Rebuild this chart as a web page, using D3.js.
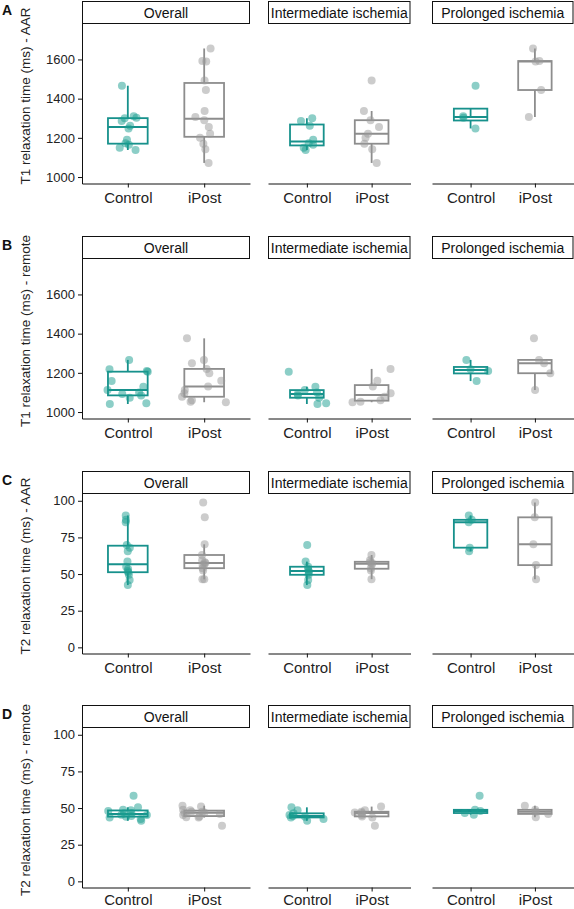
<!DOCTYPE html>
<html>
<head>
<meta charset="utf-8">
<script src="https://cdn.jsdelivr.net/npm/d3@7"></script>
<style>
  body { margin: 0; background: #fff; }
  svg { display: block; font-family: "Liberation Sans", Arial, sans-serif; }
</style>
</head>
<body>
<div id="chart"></div>
<script>
// categories
const rowLetters = ['A', 'B', 'C', 'D'];
const yTitles = [
    'T1 relaxation time (ms) - AAR',
    'T1 relaxation time (ms) - remote',
    'T2 relaxation time (ms) - AAR',
    'T2 relaxation time (ms) - remote'
];
const panelNames = ['Overall', 'Intermediate ischemia', 'Prolonged ischemia'];
const groups = ['Control', 'iPost'];

// tick labels
const t1Ticks = [1000, 1200, 1400, 1600];
const t2Ticks = [0, 25, 50, 75, 100];

// values (ms), per ischemia group
const t1AarInterControl = [1138, 1150, 1165, 1172, 1190, 1262, 1286, 1300];
const t1AarInterIpost   = [1072, 1142, 1170, 1200, 1221, 1255, 1290, 1337, 1492];
const t1AarProlControl  = [1248, 1302, 1310, 1466];
const t1AarProlIpost    = [1306, 1444, 1590, 1592, 1656];

const t1RemInterControl = [1041, 1045, 1073, 1085, 1092, 1100, 1112, 1129, 1206];
const t1RemInterIpost   = [1050, 1052, 1060, 1078, 1096, 1130, 1160, 1220];
const t1RemProlControl  = [1158, 1210, 1218, 1266];
const t1RemProlIpost    = [1112, 1198, 1249, 1266, 1376];

const t2AarInterControl = [42.5, 46, 49.5, 51, 52, 53.5, 55, 58.5, 69.8];
const t2AarInterIpost   = [46.5, 52.5, 54, 56.5, 57.5, 58, 59.5, 63];
const t2AarProlControl  = [65.5, 68, 85.3, 87, 90];
const t2AarProlIpost    = [46.4, 56.1, 70.3, 88.7, 98.9];

const t2RemInterControl = [41.3, 42.5, 43.6, 44, 44.6, 45.2, 46.4, 48.5, 50.5];
const t2RemInterIpost   = [37.9, 43.5, 44.3, 45.2, 46.6, 47, 47.5, 48.5, 51];
const t2RemProlControl  = [45.5, 46.6, 48, 48.8, 58.4];
const t2RemProlIpost    = [43.7, 46, 47.5, 48.8, 51.6];

// panels: [intermediate, prolonged] per group; overall is the union
const rowData = [
    {inter: [t1AarInterControl, t1AarInterIpost], prol: [t1AarProlControl, t1AarProlIpost]},
    {inter: [t1RemInterControl, t1RemInterIpost], prol: [t1RemProlControl, t1RemProlIpost]},
    {inter: [t2AarInterControl, t2AarInterIpost], prol: [t2AarProlControl, t2AarProlIpost]},
    {inter: [t2RemInterControl, t2RemInterIpost], prol: [t2RemProlControl, t2RemProlIpost]}
];

// layout
const width = 574, height = 909;
const rowTop = [1, 236, 471, 705];
const stripH = 22;
const plotBottom = 182.5;
const panelX = [[82, 250], [268, 410.5], [432, 573.5]];
const jitterW = [0.12, 0.3, 0.03, 0.3];
const colors = {Control: {line: '#17918c', dot: '#1a9e8f'}, iPost: {line: '#8d8d8d', dot: '#999999'}};

const svg = d3.select('#chart').append('svg')
    .attr('width', width)
    .attr('height', height);

function boxStats(vals) {
    const s = vals.slice().sort(d3.ascending);
    const q1 = d3.quantileSorted(s, 0.25);
    const med = d3.quantileSorted(s, 0.5);
    const q3 = d3.quantileSorted(s, 0.75);
    const iqr = q3 - q1;
    const lo = d3.min(s.filter(v => v >= q1 - 1.5 * iqr));
    const hi = d3.max(s.filter(v => v <= q3 + 1.5 * iqr));
    return {q1, med, q3, lo, hi};
}

// deterministic jitter in [-1, 1]
function jit(i, seed) {
    const v = Math.sin((i + 1) * 12.9898 + seed * 78.233) * 43758.5453;
    return (v - Math.floor(v)) * 2 - 1;
}

rowData.forEach((rd, r) => {
    const top = rowTop[r];
    const isT1 = r < 2;
    const y = d3.scaleLinear()
        .domain(isT1 ? [967, 1786] : [-4.2, 105.3])
        .range([top + plotBottom, top + stripH]);

    const panels = [
        [rd.inter[0].concat(rd.prol[0]), rd.inter[1].concat(rd.prol[1])],
        rd.inter,
        rd.prol
    ];

    // row letter
    svg.append('text')
        .attr('x', 2)
        .attr('y', top + 14)
        .attr('font-size', 14)
        .attr('font-weight', 'bold')
        .attr('fill', '#111')
        .text(rowLetters[r]);

    // y title
    svg.append('text')
        .attr('transform', `translate(30,${top + 95}) rotate(-90)`)
        .attr('text-anchor', 'middle')
        .attr('font-size', 13.5)
        .attr('fill', '#222')
        .text(yTitles[r]);

    // y axis on the Overall panel
    const yAx = svg.append('g')
        .attr('transform', `translate(${panelX[0][0]},0)`)
        .call(d3.axisLeft(y)
            .tickValues(isT1 ? t1Ticks : t2Ticks)
            .tickFormat(d3.format('d'))
            .tickSize(4).tickSizeOuter(0).tickPadding(3));
    yAx.selectAll('text').attr('font-size', 13).attr('fill', '#222').attr('font-family', 'Liberation Sans, Arial, sans-serif');
    yAx.selectAll('line, path').attr('stroke', '#111');

    panels.forEach((pd, p) => {
        const [x0, x1] = panelX[p];
        const x = d3.scalePoint().domain(groups).range([x0, x1]).padding(0.6);
        const step = x.step();
        const boxW = step * 0.52;

        // strip
        svg.append('rect')
            .attr('x', x0 + 0.5)
            .attr('y', top + 0.5)
            .attr('width', x1 - x0 - 1)
            .attr('height', stripH)
            .attr('fill', '#fff')
            .attr('stroke', '#111')
            .attr('stroke-width', 1);
        svg.append('text')
            .attr('x', (x0 + x1) / 2)
            .attr('y', top + 16.5)
            .attr('text-anchor', 'middle')
            .attr('font-size', 14)
            .attr('fill', '#111')
            .text(panelNames[p]);

        // x axis
        const xAx = svg.append('g')
            .attr('transform', `translate(0,${top + plotBottom})`)
            .call(d3.axisBottom(x).tickSize(4).tickSizeOuter(0).tickPadding(r === 3 ? 3 : 5));
        xAx.selectAll('text').attr('font-size', 15).attr('fill', '#222').attr('font-family', 'Liberation Sans, Arial, sans-serif');
        xAx.selectAll('line, path').attr('stroke', '#111');

        groups.forEach((gName, gi) => {
            const vals = pd[gi];
            const st = boxStats(vals);
            const cx = x(gName);
            const col = colors[gName];
            const g = svg.append('g');

            // whiskers
            g.append('line')
                .attr('x1', cx).attr('x2', cx)
                .attr('y1', y(st.q3)).attr('y2', y(st.hi))
                .attr('stroke', col.line).attr('stroke-width', 1.8);
            g.append('line')
                .attr('x1', cx).attr('x2', cx)
                .attr('y1', y(st.q1)).attr('y2', y(st.lo))
                .attr('stroke', col.line).attr('stroke-width', 1.8);
            // box
            g.append('rect')
                .attr('x', cx - boxW / 2)
                .attr('y', y(st.q3))
                .attr('width', boxW)
                .attr('height', Math.max(0.5, y(st.q1) - y(st.q3)))
                .attr('fill', 'none')
                .attr('stroke', col.line)
                .attr('stroke-width', 1.8);
            // median
            g.append('line')
                .attr('x1', cx - boxW / 2).attr('x2', cx + boxW / 2)
                .attr('y1', y(st.med)).attr('y2', y(st.med))
                .attr('stroke', col.line).attr('stroke-width', 2);

            // jittered points
            g.selectAll('circle')
                .data(vals)
                .enter()
                .append('circle')
                .attr('cx', (d, i) => cx + jit(i, r * 7 + p * 3 + gi) * jitterW[r] * step)
                .attr('cy', d => y(d))
                .attr('r', 4)
                .attr('fill', col.dot)
                .attr('fill-opacity', 0.5);
        });
    });
});
</script>
</body>
</html>
